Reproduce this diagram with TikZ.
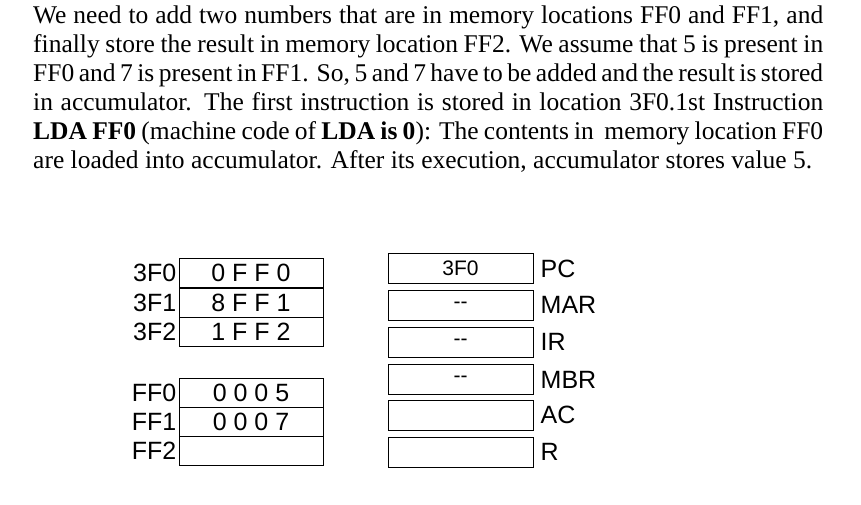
\documentclass[tikz,border=0pt]{standalone}
\usepackage{fontspec}
\setmainfont{Liberation Serif}
\newfontfamily\sansf{Liberation Sans}
\begin{document}
\begin{tikzpicture}[x=1pt,y=-1pt,
  cell/.style={draw,line width=1pt,minimum width=144pt,minimum height=29pt,inner sep=0pt,font=\sansf\fontsize{25}{25}\selectfont},
  reg/.style={draw,line width=1pt,minimum width=145pt,minimum height=30pt,inner sep=0pt,font=\sansf\fontsize{21}{21}\selectfont},
  lab/.style={font=\sansf\fontsize{25}{25}\selectfont,inner sep=0pt}]
\useasboundingbox (0,0) rectangle (861,505);
\node[anchor=north west,inner sep=0pt,text width=790pt,align=justify,font=\fontsize{25.5}{29}\selectfont] (txt) at (33,6)
{We need to add two numbers that are in memory locations FF0 and FF1, and\linebreak
finally store the result in memory location FF2. We assume that 5 is present in\linebreak
FF0 and 7 is present in FF1. So, 5 and 7 have to be added and the result is stored\linebreak
in accumulator. The first instruction is stored in location 3F0.1st Instruction\linebreak
\textbf{LDA FF0} (machine code of \textbf{LDA is 0}): The contents in \ memory location FF0\linebreak
are loaded into accumulator. After its execution, accumulator stores value 5.};
% memory
\foreach \n/\y/\v in {a/272.5/0 F F 0, b/302.5/8 F F 1, c/331.5/1 F F 2, d/392.5/0 0 0 5, e/421.5/0 0 0 7, f/450.5/{}}
  \node[cell] (m\n) at (251,\y) {\v};
\foreach \n/\l in {a/3F0,b/3F1,c/3F2,d/FF0,e/FF1,f/FF2}
  \node[lab,anchor=east] at ([xshift=-2pt]m\n.west) {\l};
% registers
\foreach \n/\y/\v/\l in {pc/268.5/3F0/PC, mar/305/--/MAR, ir/342/--/IR, mbr/379.5/--/MBR, ac/415/{}/AC, r/452/{}/R}{
  \node[reg] (\n) at (460.5,\y) {\v};
  \node[lab,anchor=west] (\n l) at ([xshift=7pt]\n.east) {\l};}
\end{tikzpicture}
\end{document}
